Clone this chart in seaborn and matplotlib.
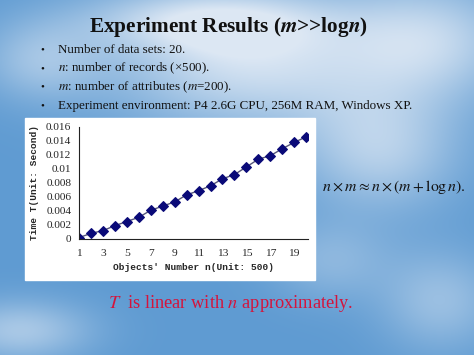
import numpy as np
import pandas as pd
import matplotlib
matplotlib.use("Agg")
import matplotlib.pyplot as plt
import seaborn as sns

# data
n_objects = list(range(1, 21))
time_sec = [0.0002, 0.0008, 0.0012, 0.0019, 0.0025, 0.0031, 0.0041, 0.0047, 0.0053, 0.0063,
            0.0069, 0.0076, 0.0086, 0.0092, 0.0103, 0.0114, 0.0119, 0.0129, 0.0138, 0.0146]
x_ticks = [1, 3, 5, 7, 9, 11, 13, 15, 17, 19]
y_ticks = [0, 0.002, 0.004, 0.006, 0.008, 0.01, 0.012, 0.014, 0.016]
y_tick_labels = ["0", "0.002", "0.004", "0.006", "0.008", "0.01", "0.012", "0.014", "0.016"]
bullets = [
    "Number of data sets: 20.",
    r"$\it{n}$: number of records (×500).",
    r"$\it{m}$: number of attributes ($\it{m}$=200).",
    "Experiment environment: P4 2.6G CPU, 256M RAM, Windows XP.",
]

df = pd.DataFrame({"n": n_objects, "t": time_sec})

sns.set_style("white")
plt.rcParams["font.family"] = ["Liberation Serif", "DejaVu Serif"]
plt.rcParams["mathtext.fontset"] = "stix"

W, H = 474, 355
fig = plt.figure(figsize=(W / 100, H / 100), dpi=100)

# sky background
bg = fig.add_axes([0, 0, 1, 1])
yy, xx = np.mgrid[0:H, 0:W]
img = np.zeros((H, W, 3))
base = np.array([95, 155, 210]) / 255.0
img[:] = base
clouds = [(250, 60, 140, 70, 0.75), (430, 40, 90, 60, 0.6), (40, 60, 60, 40, 0.4),
          (380, 150, 80, 60, 0.55), (200, 20, 120, 30, 0.5), (20, 330, 70, 30, 0.5),
          (440, 300, 60, 50, 0.4), (330, 260, 60, 40, 0.3)]
w = np.zeros((H, W))
for cx, cy, rx, ry, a in clouds:
    w += a * np.exp(-(((xx - cx) / rx) ** 2 + ((yy - cy) / ry) ** 2))
w = np.clip(w, 0, 0.85)
img = img * (1 - w[..., None]) + w[..., None] * np.array([0.95, 0.96, 0.98])
bg.imshow(img, aspect="auto", extent=[0, W, H, 0])
bg.set_xlim(0, W)
bg.set_ylim(H, 0)
bg.axis("off")

# white chart panel
bg.add_patch(plt.Rectangle((25, 118), 290, 162, color="white", zorder=2))

# slide text
bg.text(229, 27, r"Experiment Results ($\mathbfit{m}$>>log$\mathbfit{n}$)",
        fontsize=15.3, fontweight="bold", ha="center", va="center", color="#111111")
for i, s in enumerate(bullets):
    y = 50 + i * 18.7
    bg.text(42, y, "•", fontsize=8, ha="center", va="center", color="#111111")
    bg.text(58, y, s, fontsize=9.4, ha="left", va="center", color="#111111")
bg.text(394, 187, r"$n\times m\approx n\times(m+\log n).$", fontsize=11.3,
        ha="center", va="center", color="#111111")
bg.text(231, 304, r"$\it{T}$  is linear with $\it{n}$ approximately.", fontsize=13.2,
        ha="center", va="center", color="#d4143c")

# chart
ax = fig.add_axes([79 / W, 1 - 239 / H, 229 / W, 112 / H])
sns.lineplot(data=df, x="n", y="t", ax=ax, color="#55557a", linewidth=1.0,
             marker="D", markersize=4.8, markerfacecolor="#0a0a78",
             markeredgecolor="#0a0a78")
ax.set_facecolor("white")
ax.set_xlim(1, 20.15)
ax.set_ylim(0, 0.016)
ax.set_xticks(x_ticks)
ax.set_xticks(n_objects, minor=True)
ax.set_yticks(y_ticks)
ax.set_yticklabels(y_tick_labels)
ax.tick_params(axis="both", which="both", labelsize=8.2, direction="in", length=2.5,
               width=0.8, color="#222222", pad=6)
ax.tick_params(axis="y", direction="out", length=2.5, pad=3)
ax.tick_params(axis="x", which="major", pad=7)
for sp in ["top", "right"]:
    ax.spines[sp].set_visible(False)
for sp in ["left", "bottom"]:
    ax.spines[sp].set_color("#222222")
    ax.spines[sp].set_linewidth(0.8)
ax.set_xlabel("Objects' Number n(Unit: 500)", fontsize=6.8, family="Liberation Mono",
              fontweight="bold", labelpad=4)
ax.set_ylabel("Time T(Unit: Second)", fontsize=6.8, family="Liberation Mono",
              fontweight="bold", labelpad=5)
ax.grid(False)

fig.savefig("out.png", dpi=100)
